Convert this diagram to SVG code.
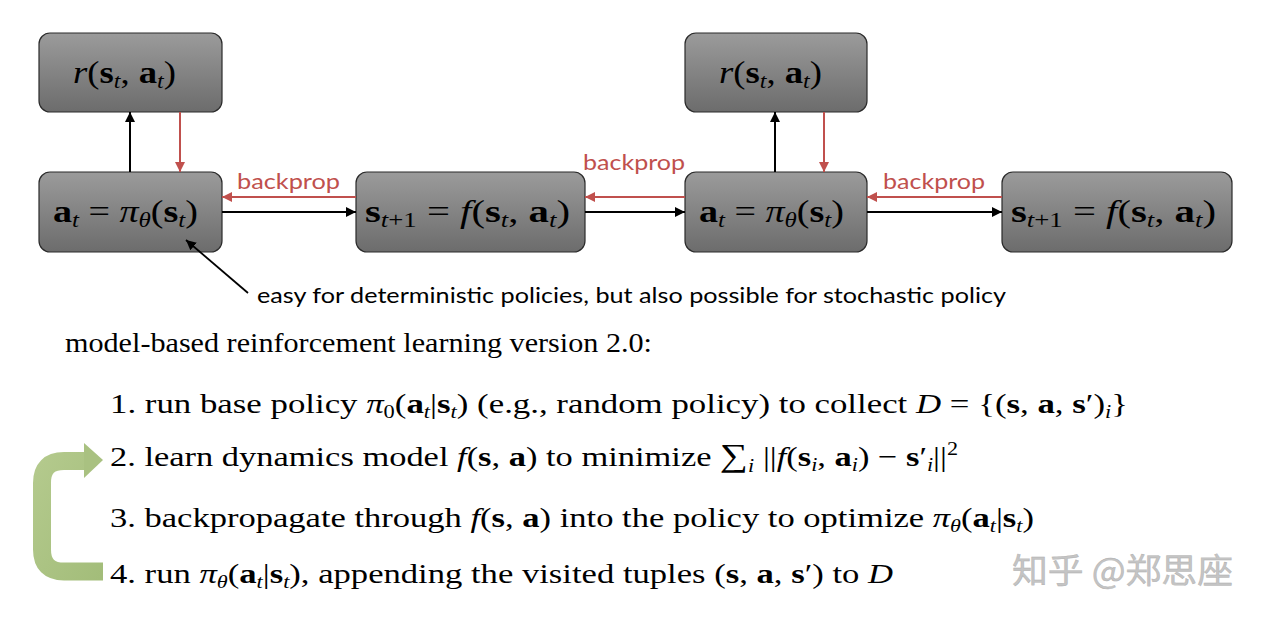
<svg xmlns="http://www.w3.org/2000/svg" width="1265" height="618" viewBox="0 0 1265 618">
<defs>
<linearGradient id="gb" x1="0" y1="0" x2="0" y2="1">
<stop offset="0" stop-color="#9b9b9b"/>
<stop offset="1" stop-color="#6c6c6c"/>
</linearGradient>
<linearGradient id="gg" x1="0" y1="0" x2="1" y2="1">
<stop offset="0" stop-color="#b3c98c"/>
<stop offset="1" stop-color="#a3bd7a"/>
</linearGradient>
<marker id="ak" viewBox="0 0 10 10" refX="10" refY="5" markerWidth="10" markerHeight="10" markerUnits="userSpaceOnUse" orient="auto">
<path d="M0,0 L10,5 L0,10 z" fill="#000"/>
</marker>
<marker id="ar" viewBox="0 0 10 10" refX="10" refY="5" markerWidth="10" markerHeight="10" markerUnits="userSpaceOnUse" orient="auto">
<path d="M0,0 L10,5 L0,10 z" fill="#c0504d"/>
</marker>
</defs>
<style>
.box{fill:url(#gb);stroke:#2b2b2b;stroke-width:1.2}
.m{font-family:"Liberation Serif","DejaVu Serif",serif;fill:#000}
.bt{font-size:32px}
.b{font-weight:bold}
.i{font-style:italic}
.s{font-size:21px}
.ss{font-size:18px}
.bk{stroke:#000;stroke-width:2;fill:none}
.rd{stroke:#c0504d;stroke-width:2;fill:none}
.lbl{font-family:Lato,"Open Sans",sans-serif;font-size:22px;fill:#c0504d}
.ann{font-family:Lato,"Open Sans",sans-serif;font-size:22px;fill:#000}
.ln{font-size:28px}
</style>
<rect width="1265" height="618" fill="#fff"/>

<g id="r1">
<rect class="box" x="39" y="33" width="183" height="79" rx="11"/>
<text class="m bt" x="73" y="83" textLength="103" lengthAdjust="spacingAndGlyphs"><tspan class="i">r</tspan>(<tspan class="b">s</tspan><tspan class="i s" dy="5">t</tspan><tspan dy="-5">, </tspan><tspan class="b">a</tspan><tspan class="i s" dy="5">t</tspan><tspan dy="-5">)</tspan></text>
</g>
<g id="a1">
<rect class="box" x="39" y="172" width="183" height="80" rx="11"/>
<text class="m bt" x="53" y="222" textLength="145" lengthAdjust="spacingAndGlyphs"><tspan class="b">a</tspan><tspan class="i s" dy="5">t</tspan><tspan dy="-5"> = </tspan><tspan class="i">π</tspan><tspan class="i s" dy="5">θ</tspan><tspan dy="-5">(</tspan><tspan class="b">s</tspan><tspan class="i s" dy="5">t</tspan><tspan dy="-5">)</tspan></text>
</g>
<g id="s1">
<rect class="box" x="356" y="172" width="229" height="80" rx="11"/>
<text class="m bt" x="365" y="222" textLength="205" lengthAdjust="spacingAndGlyphs"><tspan class="b">s</tspan><tspan class="s" dy="5"><tspan class="i">t</tspan>+1</tspan><tspan dy="-5"> = </tspan><tspan class="i">f</tspan>(<tspan class="b">s</tspan><tspan class="i s" dy="5">t</tspan><tspan dy="-5">, </tspan><tspan class="b">a</tspan><tspan class="i s" dy="5">t</tspan><tspan dy="-5">)</tspan></text>
</g>
<g id="r2">
<rect class="box" x="685" y="33" width="182" height="79" rx="11"/>
<text class="m bt" x="719" y="83" textLength="103" lengthAdjust="spacingAndGlyphs"><tspan class="i">r</tspan>(<tspan class="b">s</tspan><tspan class="i s" dy="5">t</tspan><tspan dy="-5">, </tspan><tspan class="b">a</tspan><tspan class="i s" dy="5">t</tspan><tspan dy="-5">)</tspan></text>
</g>
<g id="a2">
<rect class="box" x="685" y="172" width="182" height="80" rx="11"/>
<text class="m bt" x="699" y="222" textLength="145" lengthAdjust="spacingAndGlyphs"><tspan class="b">a</tspan><tspan class="i s" dy="5">t</tspan><tspan dy="-5"> = </tspan><tspan class="i">π</tspan><tspan class="i s" dy="5">θ</tspan><tspan dy="-5">(</tspan><tspan class="b">s</tspan><tspan class="i s" dy="5">t</tspan><tspan dy="-5">)</tspan></text>
</g>
<g id="s2">
<rect class="box" x="1002" y="172" width="230" height="80" rx="11"/>
<text class="m bt" x="1011" y="222" textLength="205" lengthAdjust="spacingAndGlyphs"><tspan class="b">s</tspan><tspan class="s" dy="5"><tspan class="i">t</tspan>+1</tspan><tspan dy="-5"> = </tspan><tspan class="i">f</tspan>(<tspan class="b">s</tspan><tspan class="i s" dy="5">t</tspan><tspan dy="-5">, </tspan><tspan class="b">a</tspan><tspan class="i s" dy="5">t</tspan><tspan dy="-5">)</tspan></text>
</g>

<g id="connectors">
<line class="bk" x1="130" y1="172" x2="130" y2="112" marker-end="url(#ak)"/>
<line class="rd" x1="180" y1="112" x2="180" y2="172" marker-end="url(#ar)"/>
<line class="bk" x1="222" y1="212" x2="356" y2="212" marker-end="url(#ak)"/>
<line class="rd" x1="356" y1="197" x2="222" y2="197" marker-end="url(#ar)"/>
<line class="bk" x1="585" y1="212" x2="685" y2="212" marker-end="url(#ak)"/>
<line class="rd" x1="685" y1="197" x2="585" y2="197" marker-end="url(#ar)"/>
<line class="bk" x1="775" y1="172" x2="775" y2="112" marker-end="url(#ak)"/>
<line class="rd" x1="824" y1="112" x2="824" y2="172" marker-end="url(#ar)"/>
<line class="bk" x1="867" y1="212" x2="1002" y2="212" marker-end="url(#ak)"/>
<line class="rd" x1="1002" y1="197" x2="867" y2="197" marker-end="url(#ar)"/>
<line x1="248" y1="293" x2="186" y2="240" stroke="#000" stroke-width="1.8" marker-end="url(#ak)"/>
<text class="lbl" x="237" y="189" textLength="103" lengthAdjust="spacingAndGlyphs">backprop</text>
<text class="lbl" x="583" y="170" textLength="102" lengthAdjust="spacingAndGlyphs">backprop</text>
<text class="lbl" x="883" y="189" textLength="102" lengthAdjust="spacingAndGlyphs">backprop</text>
</g>

<text class="ann" x="257" y="303" textLength="749" lengthAdjust="spacingAndGlyphs">easy for deterministic policies, but also possible for stochastic policy</text>

<g id="loop-arrow">
<path d="M103,571.5 H64 Q42,571.5 42,549.5 V483 Q42,461 64,461 H85" fill="none" stroke="url(#gg)" stroke-width="18"/>
<path d="M84,443 L103,460 L84,478 z" fill="#a9c181"/>
</g>

<g id="steps">
<text class="m ln" x="65" y="352" textLength="587" lengthAdjust="spacingAndGlyphs">model-based reinforcement learning version 2.0:</text>
<text class="m ln" x="110" y="413" textLength="1018" lengthAdjust="spacingAndGlyphs">1. run base policy <tspan class="i">π</tspan><tspan class="ss" dy="5">0</tspan><tspan dy="-5">(</tspan><tspan class="b">a</tspan><tspan class="i ss" dy="5">t</tspan><tspan dy="-5">|</tspan><tspan class="b">s</tspan><tspan class="i ss" dy="5">t</tspan><tspan dy="-5">) (e.g., random policy) to collect </tspan><tspan class="i">D</tspan> = {(<tspan class="b">s</tspan>, <tspan class="b">a</tspan>, <tspan class="b">s</tspan>′)<tspan class="i ss" dy="5">i</tspan><tspan dy="-5">}</tspan></text>
<text class="m ln" x="110" y="466" textLength="848" lengthAdjust="spacingAndGlyphs">2. learn dynamics model <tspan class="i">f</tspan>(<tspan class="b">s</tspan>, <tspan class="b">a</tspan>) to minimize <tspan font-size="32">∑</tspan><tspan class="i ss" dy="6">i</tspan><tspan dy="-6"> ||</tspan><tspan class="i">f</tspan>(<tspan class="b">s</tspan><tspan class="i ss" dy="5">i</tspan><tspan dy="-5">, </tspan><tspan class="b">a</tspan><tspan class="i ss" dy="5">i</tspan><tspan dy="-5">) − </tspan><tspan class="b">s</tspan>′<tspan class="i ss" dy="5">i</tspan><tspan dy="-5">||</tspan><tspan class="ss" dy="-11">2</tspan></text>
<text class="m ln" x="110" y="527" textLength="924" lengthAdjust="spacingAndGlyphs">3. backpropagate through <tspan class="i">f</tspan>(<tspan class="b">s</tspan>, <tspan class="b">a</tspan>) into the policy to optimize <tspan class="i">π</tspan><tspan class="i ss" dy="5">θ</tspan><tspan dy="-5">(</tspan><tspan class="b">a</tspan><tspan class="i ss" dy="5">t</tspan><tspan dy="-5">|</tspan><tspan class="b">s</tspan><tspan class="i ss" dy="5">t</tspan><tspan dy="-5">)</tspan></text>
<text class="m ln" x="110" y="583" textLength="783" lengthAdjust="spacingAndGlyphs">4. run <tspan class="i">π</tspan><tspan class="i ss" dy="5">θ</tspan><tspan dy="-5">(</tspan><tspan class="b">a</tspan><tspan class="i ss" dy="5">t</tspan><tspan dy="-5">|</tspan><tspan class="b">s</tspan><tspan class="i ss" dy="5">t</tspan><tspan dy="-5">), appending the visited tuples (</tspan><tspan class="b">s</tspan>, <tspan class="b">a</tspan>, <tspan class="b">s</tspan>′) to <tspan class="i">D</tspan></text>
</g>

<text x="1012" y="583" font-family="'Noto Sans CJK SC',sans-serif" font-size="34" fill="#c4c4c4" stroke="#adadad" stroke-width="0.4" textLength="221" lengthAdjust="spacingAndGlyphs">知乎 @郑思座</text>
</svg>
